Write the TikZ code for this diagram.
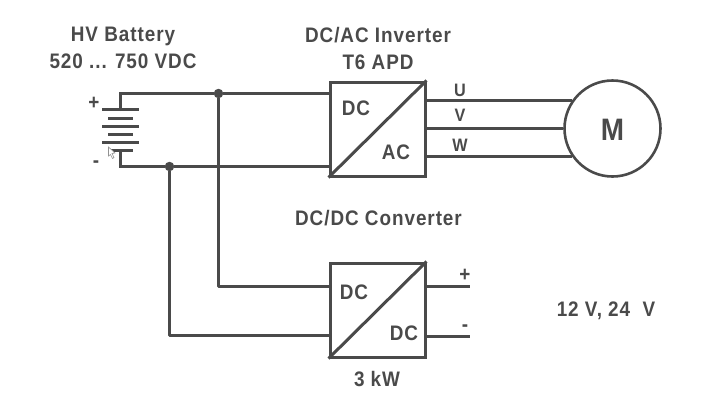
\documentclass[tikz,border=0pt]{standalone}
\usepackage{fontspec}
\setmainfont{Liberation Sans}
\newfontfamily\labelfont[LetterSpace=5]{Liberation Sans}
\usepackage{tikz}
\usetikzlibrary{positioning}
\definecolor{wireGrey}{HTML}{4A4A4A}
\tikzstyle{convBox} = [rectangle, minimum width=95pt, minimum height=94pt, draw=wireGrey, line width=3pt, inner sep=0pt]
\tikzstyle{motorNode} = [circle, minimum size=96pt, draw=wireGrey, line width=2.6pt, inner sep=0pt]
\tikzstyle{dotNode} = [circle, minimum size=9.5pt, fill=wireGrey, inner sep=0pt]
\tikzstyle{txt} = [text=wireGrey, inner sep=0pt, xscale=0.9, transform shape, font=\labelfont\fontsize{21}{21}\selectfont\bfseries]
\tikzstyle{phaseTxt} = [txt, font=\labelfont\fontsize{18}{18}\selectfont\bfseries]
\tikzstyle{wire} = [draw=wireGrey, line width=3pt]
\begin{document}
\begin{tikzpicture}[x=1pt, y=-1pt, node distance=181pt]
    \useasboundingbox (0,0) rectangle (725,410);
    % boxes and motor
    \node (inv) [convBox] at (377.5,129) {};
    \node (dcdc) [convBox, below of=inv] {};
    \node (motor) [motorNode] at (612.5,128.5) {};
    \node (mLabel) [txt, font=\bfseries\fontsize{31}{31}\selectfont] at (612.5,130) {M};
    \draw [wire] (inv.south west) -- (inv.north east);
    \draw [wire] (dcdc.south west) -- (dcdc.north east);
    % battery
    \coordinate (batTop) at (120,109.5);
    \coordinate (batBot) at (120,150.5);
    \coordinate (railTop) at (120,93.5);
    \coordinate (railBot) at (120,166.5);
    \foreach \py in {109.5,126.5,142.5}
        \draw [wire] (102,\py) -- (139,\py);
    \foreach \py in {118.5,134.5,150.5}
        \draw [wire] (108,\py) -- (133,\py);
    \node (dotTop) [dotNode] at (218.5,93.5) {};
    \node (dotBot) [dotNode] at (169.5,166.5) {};
    \draw [wire, line cap=round] (batTop) -- (railTop) -- (dotTop);
    \draw [wire] (dotTop) -- (railTop -| inv.west);
    \draw [wire, line cap=round] (batBot) -- (railBot) -- (dotBot);
    \draw [wire] (dotBot) -- (railBot -| inv.west);
    % dc/dc feed
    \coordinate (feedTop) at (330,286.5);
    \coordinate (feedBot) at (330,335.5);
    \draw [wire, line join=round] (dotTop) |- (feedTop);
    \draw [wire, line join=round] (dotBot) |- (feedBot);
    % dc/dc output
    \coordinate (outPlus) at (470,286.5);
    \coordinate (outMinus) at (470,336.5);
    \draw [wire] (outPlus -| dcdc.east) -- (outPlus);
    \draw [wire] (outMinus -| dcdc.east) -- (outMinus);
    % phases
    \coordinate (phU) at (motor.146);
    \coordinate (phV) at (motor.west);
    \coordinate (phW) at (motor.214);
    \draw [wire] (phU -| inv.east) -- (phU);
    \draw [wire] (phV -| inv.east) -- (phV);
    \draw [wire] (phW -| inv.east) -- (phW);
    % mouse pointer
    \draw [draw=wireGrey!60, fill=white, line width=0.6pt] (108.5,147) -- (108.5,156) -- (110.5,154.5) -- (112.5,158.5) -- (114,157.5) -- (112,153.5) -- (115,153) -- cycle;
    % labels
    \node (batName) [txt] at (123,36) {HV Battery};
    \node (batVolt) [txt] at (123,61) {520 ... 750 VDC};
    \node (invName) [txt] at (378,35) {DC/AC Inverter};
    \node (invType) [txt] at (378,62) {T6 APD};
    \node (dcdcName) [txt] at (378.5,218) {DC/DC Converter};
    \node (dcdcPower) [txt] at (377,379) {3 kW};
    \node (outVolt) [txt] at (606,311) {12 V, 24\ \ V};
    \node (invIn) [txt] at (356,108) {DC};
    \node (invOut) [txt] at (396,152) {AC};
    \node (dcdcIn) [txt] at (354,292) {DC};
    \node (dcdcOut) [txt] at (404,333) {DC};
    \node (lblU) [phaseTxt] at (460,90) {U};
    \node (lblV) [phaseTxt] at (460,115) {V};
    \node (lblW) [phaseTxt] at (460,145) {W};
    \node (batPlus) [txt] at (94,103) {+};
    \node (batMinus) [txt] at (96,164) {-};
    \node (outP) [txt] at (465,275) {+};
    \node (outM) [txt] at (465,328) {-};
\end{tikzpicture}
\end{document}
